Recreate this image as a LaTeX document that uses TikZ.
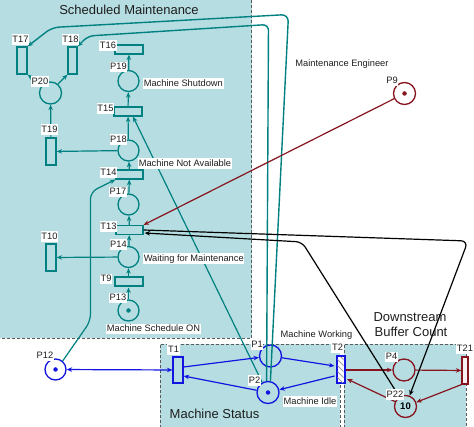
\documentclass[tikz,border=0pt]{standalone}
\usepackage{fontspec}
\setmainfont{Liberation Sans}
\usetikzlibrary{arrows.meta,calc}
\definecolor{tealc}{RGB}{0,128,128}
\definecolor{bgc}{RGB}{182,222,226}
\definecolor{bluec}{RGB}{20,20,225}
\definecolor{redc}{RGB}{135,20,30}
\definecolor{dashc}{RGB}{90,90,90}
\definecolor{txt}{RGB}{30,30,30}
\begin{document}
\begin{tikzpicture}[x=1pt,y=-1pt,
  place/.style={circle,draw,line width=1.3pt,minimum size=21pt,inner sep=0pt},
  trans/.style={rectangle,draw,line width=1.2pt,inner sep=0pt},
  vtr/.style={trans,minimum width=10pt,minimum height=27pt},
  htr/.style={trans,minimum width=27pt,minimum height=9pt},
  lbl/.style={fill=white,inner sep=0.6pt,font=\fontsize{9.3}{10}\selectfont,text=txt,text height=7.5pt,text depth=1.5pt},
  big/.style={font=\fontsize{13}{15}\selectfont,text=txt,inner sep=0pt,text height=9.5pt,text depth=0pt},
  arc/.style={line width=1.2pt,-{Stealth[length=5.5pt,width=4.5pt]}},
  longarc/.style={line width=1.4pt,-{Stealth[length=5.5pt,width=4.5pt]}},
  arcboth/.style={line width=1.2pt,{Stealth[length=5.5pt,width=4.5pt]}-{Stealth[length=5.5pt,width=4.5pt]}},
  region/.style={dashc,dash pattern=on 3pt off 2pt,line width=0.9pt},
  tok/.style={circle,fill,inner sep=0pt,minimum size=4.5pt}
]
\useasboundingbox (0,0) rectangle (474,427);
\fill[white] (0,0) rectangle (474,427);
% regions
\fill[bgc] (0,0) rectangle (251.5,338.5);
\draw[region] (251.5,0) -- (251.5,338.5) -- (0,338.5);
\fill[bgc] (160,344) rectangle (340,427);
\draw[region] (160,428) -- (160,344) -- (340,344) -- (340,428);
\fill[bgc] (344,344) rectangle (466,427);
\draw[region] (344,428) -- (344,344) -- (466,344) -- (466,428);

% Scheduled maintenance nodes
\node[vtr,tealc] (T17) at (22,60.5) {};
\node[vtr,tealc,minimum width=9pt] (T18) at (72.5,60.5) {};
\node[place,tealc,minimum size=22pt] (P20) at (50.5,93) {};
\node[vtr,tealc] (T19) at (51,151.5) {};
\node[htr,tealc,minimum width=28pt] (T16) at (129,49.5) {};
\node[place,tealc] (P19) at (128.5,81) {};
\node[htr,tealc,minimum width=28pt] (T15) at (128,111.5) {};
\node[place,tealc] (P18) at (128.5,150.5) {};
\node[htr,tealc] (T14) at (129.5,174.5) {};
\node[place,tealc] (P17) at (128.5,204.5) {};
\node[htr,tealc] (T13) at (129.5,230) {};
\node[place,tealc] (P14) at (128.5,257) {};
\node[vtr,tealc] (T10) at (51,257.5) {};
\node[htr,tealc,line width=2pt,minimum width=28pt] (T9) at (128.5,282) {};
\node[place,tealc] (P13) at (128.5,310.5) {};
\node[tok,tealc] at (P13) {};

% Machine status nodes
\node[vtr,bluec,minimum height=26pt] (T1) at (178,370) {};
\node[place,bluec,minimum size=22pt] (P1) at (270.5,356) {};
\node[place,bluec,minimum size=22pt] (P2) at (268,392.5) {};
\node[tok,bluec] at (P2) {};
\node[vtr,bluec,line width=2pt,minimum width=8pt,minimum height=27pt,fill=white] (T2) at (340.5,370) {};
\begin{scope}
  \clip (337.5,357.5) rectangle (343.5,382.5);
  \foreach \k in {-3,...,5} \draw[gray!75,line width=1pt] (335,357+\k*6) -- ++(11,11);
\end{scope}

% Downstream nodes
\node[place,redc,minimum size=22pt] (P4) at (404,370) {};
\node[place,redc,minimum size=22pt,text=black] (P22) at (405.5,406.5) {\fontsize{9.5}{10}\selectfont\bfseries 10};
\node[vtr,redc,minimum width=6pt,fill=redc!6] (T21) at (465,370.5) {};

% outside places
\node[place,bluec,fill=white] (P12) at (55.5,369.5) {};
\node[tok,bluec] at (P12) {};
\node[place,redc,minimum size=22pt] (P9) at (404.5,93.5) {};
\node[tok,redc] at (P9) {};

% teal arcs
\draw[arc,tealc] (P13) -- (T9);
\draw[arc,tealc] (T9) -- (P14);
\draw[arc,tealc] (P14) -- (T13);
\draw[arc,tealc] (T13) -- (P17);
\draw[arc,tealc] (P17) -- (T14);
\draw[arc,tealc] (T14) -- (P18);
\draw[arc,tealc] (P18) -- (T15);
\draw[arc,tealc] (T15) -- (P19);
\draw[arc,tealc] (P19) -- (T16);
\draw[arc,tealc] (P14) -- (T10);
\draw[arc,tealc] (P18) -- (T19);
\draw[arc,tealc] (T19) -- (P20);
\draw[arc,tealc] (P20.140) -- (T17.south east);
\draw[arc,tealc] (P20.50) -- (T18.south west);
\coordinate (oc1) at (288.5,14.5);
\coordinate (oc2) at (52,27.5);
\coordinate (ic1) at (268.5,24.5);
\coordinate (ic2) at (88,36);
\draw[longarc,tealc,rounded corners=7pt] (P2.78) -- (oc1) -- (oc2) -- (T17.north east);
\draw[longarc,tealc,rounded corners=6pt] (P2.97) -- (ic1) -- (ic2) -- (T18.north east);
\draw[arc,tealc] (P2.120) -- ($(T15.south)+(5,0)$);
\coordinate (pc1) at (90.5,321);
\coordinate (pc2) at (90.5,192);
\draw[arc,tealc,rounded corners=7pt] (P12.50) -- (pc1) -- (pc2) -- (T14.south west);

% red arcs
\draw[arc,redc] (P9) -- (T13.north east);
\draw[arc,redc] (T2.east) -- (P4);
\draw[arc,redc] (P4) -- (T21);
\draw[arc,redc] (T21.south west) -- (P22);
\draw[arc,redc] (P22) -- ($(T2.east)+(1.5,9)$);

% blue arcs
\draw[arc,bluec] ($(T1.east)+(0,-3)$) -- (P1);
\draw[arc,bluec] (P1) -- ($(T2.west)+(-1,-4)$);
\draw[arc,bluec] ($(T2.west)+(-1,6)$) -- (P2);
\draw[arc,bluec] (P2) -- ($(T1.east)+(0,6)$);
\draw[arcboth,bluec] (P12) -- (T1);

% black arcs
\coordinate (bc1) at (468,241);
\coordinate (bc2) at (302,242);
\draw[arc,black,rounded corners=7pt] (T13.east) -- (bc1) -- (P22);
\draw[arc,black,rounded corners=6pt] (P22) -- (bc2) -- ($(T13.east)+(1,3)$);

% labels
\node[big] at (129,9.5) {Scheduled Maintenance};
\node[lbl] at (20.5,39.5) {T17};
\node[lbl] at (70.5,39.5) {T18};
\node[lbl] at (40,81.5) {P20};
\node[lbl] at (108,45.5) {T16};
\node[lbl] at (118.5,67) {P19};
\node[lbl,anchor=west] at (143,83.5) {Machine Shutdown};
\node[lbl] at (105.5,108.5) {T15};
\node[lbl] at (118.5,139.5) {P18};
\node[lbl,anchor=west] at (138,163.5) {Machine Not Available};
\node[lbl] at (108.5,172.5) {T14};
\node[lbl] at (118,192) {P17};
\node[lbl] at (108.5,226.5) {T13};
\node[lbl] at (118.5,244.5) {P14};
\node[lbl,anchor=west] at (143,258.5) {Waiting for Maintenance};
\node[lbl] at (49.5,129.5) {T19};
\node[lbl] at (49.5,236.5) {T10};
\node[lbl] at (106,279) {T9};
\node[lbl] at (118,298) {P13};
\node[lbl] at (153.5,329) {Machine Schedule ON};
\node[lbl,fill=none] at (342,63.5) {Maintenance Engineer};
\node[lbl] at (392,81) {P9};
\node[lbl] at (45,355.5) {P12};
\node[lbl] at (173.5,349.5) {T1};
\node[lbl] at (257,345) {P1};
\node[lbl] at (254.5,380.5) {P2};
\node[lbl] at (337.5,348) {T2};
\node[lbl] at (316.5,334.5) {Machine Working};
\node[lbl] at (310,401.5) {Machine Idle};
\node[big] at (214.5,413.5) {Machine Status};
\node[lbl] at (391.5,357) {P4};
\node[lbl] at (395,394.5) {P22};
\node[lbl] at (465,349) {T21};
\node[big] at (410,316.5) {Downstream};
\node[big] at (411,332) {Buffer Count};
\end{tikzpicture}
\end{document}
